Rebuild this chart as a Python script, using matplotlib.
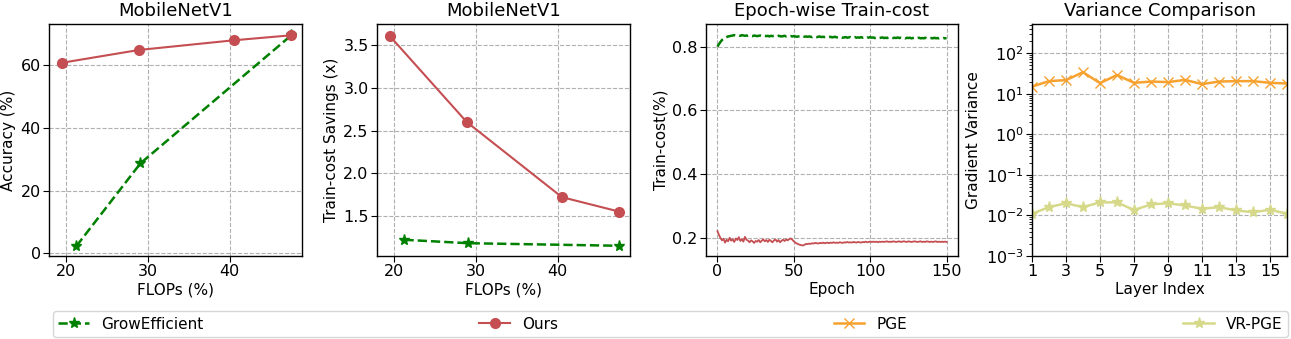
import numpy as np
import matplotlib
matplotlib.use("Agg")
import matplotlib.pyplot as plt

#%% data read off the reference
# panel 1 / 2 : MobileNetV1
flops_ours = [19.5, 28.9, 40.5, 47.5]
acc_ours = [60.8, 64.9, 68.0, 69.6]
save_ours = [3.61, 2.60, 1.72, 1.55]

flops_grow = [21.3, 29.1, 47.5]
acc_grow = [2.3, 28.7, 69.6]
save_grow = [1.22, 1.18, 1.15]

# panel 3 : epoch-wise train cost (epochs 0..150)
cost_grow = [
    0.800, 0.808, 0.815, 0.821, 0.825, 0.828, 0.830, 0.832, 0.833, 0.834,
    0.835, 0.836, 0.835, 0.836, 0.835, 0.834, 0.836, 0.835, 0.834, 0.835,
    0.834, 0.835, 0.834, 0.833, 0.835, 0.834, 0.833, 0.834, 0.835, 0.834,
    0.833, 0.834, 0.833, 0.834, 0.832, 0.834, 0.833, 0.834, 0.833, 0.832,
    0.834, 0.833, 0.832, 0.833, 0.834, 0.832, 0.833, 0.832, 0.833, 0.832,
    0.833, 0.832, 0.831, 0.832, 0.833, 0.831, 0.832, 0.831, 0.832, 0.831,
    0.832, 0.831, 0.830, 0.832, 0.831, 0.830, 0.831, 0.832, 0.830, 0.831,
    0.830, 0.831, 0.829, 0.830, 0.831, 0.829, 0.830, 0.831, 0.829, 0.830,
    0.829, 0.830, 0.828, 0.829, 0.830, 0.828, 0.829, 0.830, 0.828, 0.829,
    0.830, 0.828, 0.829, 0.828, 0.830, 0.828, 0.829, 0.827, 0.829, 0.828,
    0.830, 0.828, 0.829, 0.827, 0.828, 0.829, 0.827, 0.828, 0.829, 0.827,
    0.828, 0.827, 0.829, 0.827, 0.828, 0.827, 0.828, 0.827, 0.829, 0.827,
    0.828, 0.827, 0.828, 0.826, 0.828, 0.827, 0.828, 0.826, 0.827, 0.828,
    0.826, 0.827, 0.828, 0.826, 0.827, 0.826, 0.828, 0.826, 0.827, 0.826,
    0.827, 0.826, 0.828, 0.826, 0.827, 0.826, 0.827, 0.826, 0.827, 0.826,
    0.827,
]
cost_ours = [
    0.222, 0.210, 0.200, 0.193, 0.198, 0.186, 0.195, 0.190, 0.201, 0.192,
    0.196, 0.188, 0.199, 0.194, 0.203, 0.191, 0.197, 0.189, 0.204, 0.195,
    0.192, 0.187, 0.193, 0.190, 0.185, 0.191, 0.189, 0.194, 0.187, 0.192,
    0.196, 0.190, 0.194, 0.188, 0.195, 0.191, 0.187, 0.193, 0.196, 0.189,
    0.194, 0.187, 0.192, 0.195, 0.191, 0.196, 0.193, 0.197, 0.199, 0.195,
    0.190, 0.186, 0.183, 0.181, 0.179, 0.178, 0.177, 0.179, 0.182, 0.181,
    0.183, 0.182, 0.184, 0.183, 0.185, 0.184, 0.183, 0.185, 0.184, 0.186,
    0.184, 0.185, 0.186, 0.184, 0.186, 0.185, 0.187, 0.185, 0.186, 0.185,
    0.187, 0.186, 0.185, 0.187, 0.186, 0.188, 0.186, 0.187, 0.186, 0.188,
    0.187, 0.186, 0.188, 0.187, 0.186, 0.188, 0.187, 0.189, 0.187, 0.188,
    0.189, 0.188, 0.189, 0.188, 0.189, 0.187, 0.189, 0.188, 0.189, 0.188,
    0.189, 0.190, 0.188, 0.189, 0.188, 0.190, 0.189, 0.188, 0.189, 0.190,
    0.188, 0.189, 0.190, 0.189, 0.188, 0.190, 0.189, 0.188, 0.189, 0.190,
    0.189, 0.188, 0.189, 0.190, 0.188, 0.189, 0.188, 0.190, 0.189, 0.188,
    0.189, 0.188, 0.189, 0.190, 0.188, 0.189, 0.188, 0.189, 0.188, 0.189,
    0.188,
]

# panel 4 : gradient variance per layer
layers = list(range(1, 17))
var_pge = [15.0, 20.5, 21.7, 34.0, 18.3, 29.0, 18.6, 20.0, 19.4, 22.0, 17.3, 20.0, 20.5, 20.5, 18.6, 17.9]
var_vrpge = [0.011, 0.016, 0.020, 0.016, 0.021, 0.021, 0.0136, 0.0187, 0.020, 0.0176, 0.0146, 0.016, 0.0133, 0.012, 0.0138, 0.011]

#%% style
C_RED = '#c44e52'
C_GREEN = 'green'
C_ORANGE = '#f7a12e'
C_OLIVE = '#d6d98a'

plt.rcParams['font.family'] = ['DejaVu Sans']
plt.rcParams['xtick.labelsize'] = 11.5
plt.rcParams['ytick.labelsize'] = 11.5
plt.rcParams['axes.labelsize'] = 11
plt.rcParams['axes.titlesize'] = 13

fig = plt.figure(figsize=(12.91, 3.39), dpi=100)
W, H = 1291, 339
def add_ax(left, right):
    return fig.add_axes([left / W, (H - 256) / H, (right - left) / W, 232 / H])

ax1 = add_ax(49, 302)
ax2 = add_ax(377, 630)
ax3 = add_ax(706, 958)
ax4 = add_ax(1032, 1287)

def grid(ax):
    ax.grid(True, ls='--', color='#b0b0b0', lw=0.8)
    ax.set_axisbelow(True)

# panel 1
l_grow, = ax1.plot(flops_grow, acc_grow, '--', marker='*', color=C_GREEN, lw=1.8, ms=8, label='GrowEfficient')
l_ours, = ax1.plot(flops_ours, acc_ours, '-', marker='o', color=C_RED, lw=1.5, ms=7, label='Ours')
ax1.set_xlim(17.95, 48.8)
ax1.set_ylim(-0.9, 73.2)
ax1.set_xticks([20, 30, 40])
ax1.set_yticks([0, 20, 40, 60])
ax1.set_title('MobileNetV1')
ax1.set_xlabel('FLOPs (%)')
ax1.set_ylabel('Accuracy (%)')
grid(ax1)

# panel 2
ax2.plot(flops_grow, save_grow, '--', marker='*', color=C_GREEN, lw=1.8, ms=8)
ax2.plot(flops_ours, save_ours, '-', marker='o', color=C_RED, lw=1.5, ms=7)
ax2.set_xlim(17.95, 48.8)
ax2.set_ylim(1.03, 3.75)
ax2.set_xticks([20, 30, 40])
ax2.set_yticks([1.5, 2.0, 2.5, 3.0, 3.5])
ax2.set_title('MobileNetV1')
ax2.set_xlabel('FLOPs (%)')
ax2.set_ylabel('Train-cost Savings (x)')
grid(ax2)

# panel 3
epochs = np.arange(len(cost_ours))
ax3.plot(epochs, cost_grow, '--', color=C_GREEN, lw=1.8)
ax3.plot(epochs, cost_ours, '-', color=C_RED, lw=1.3)
ax3.set_xlim(-7.5, 157.5)
ax3.set_ylim(0.144, 0.871)
ax3.set_xticks([0, 50, 100, 150])
ax3.set_yticks([0.2, 0.4, 0.6, 0.8])
ax3.set_title('Epoch-wise Train-cost')
ax3.set_xlabel('Epoch')
ax3.set_ylabel('Train-cost(%)')
grid(ax3)

# panel 4
l_pge, = ax4.plot(layers, var_pge, '-', marker='x', color=C_ORANGE, lw=1.8, ms=7, label='PGE')
l_vr, = ax4.plot(layers, var_vrpge, '-', marker='*', color=C_OLIVE, lw=1.8, ms=8, label='VR-PGE')
ax4.set_yscale('log')
ax4.set_xlim(1, 16)
ax4.set_ylim(1e-3, 525)
ax4.set_xticks([1, 3, 5, 7, 9, 11, 13, 15])
ax4.set_yticks([1e-3, 1e-2, 1e-1, 1e0, 1e1, 1e2])
ax4.set_title('Variance Comparison')
ax4.set_xlabel('Layer Index')
ax4.set_ylabel('Gradient Variance')
grid(ax4)
ax4.grid(False, which='minor')

for ax in (ax1, ax2, ax3, ax4):
    for s in ax.spines.values():
        s.set_color('black')
        s.set_linewidth(1.0)
    ax.tick_params(direction='out', length=4, pad=2)
    ax.xaxis.labelpad = 2
    ax.yaxis.labelpad = 3

fig.legend([l_grow, l_ours, l_pge, l_vr], ['GrowEfficient', 'Ours', 'PGE', 'VR-PGE'],
           loc='lower left', bbox_to_anchor=(53 / W, 2 / H, (1288 - 53) / W, 27 / H),
           ncol=4, mode='expand', fontsize=11, frameon=True, borderaxespad=0,
           handlelength=2.0, borderpad=0.35)

fig.savefig('out.png', dpi=100)
